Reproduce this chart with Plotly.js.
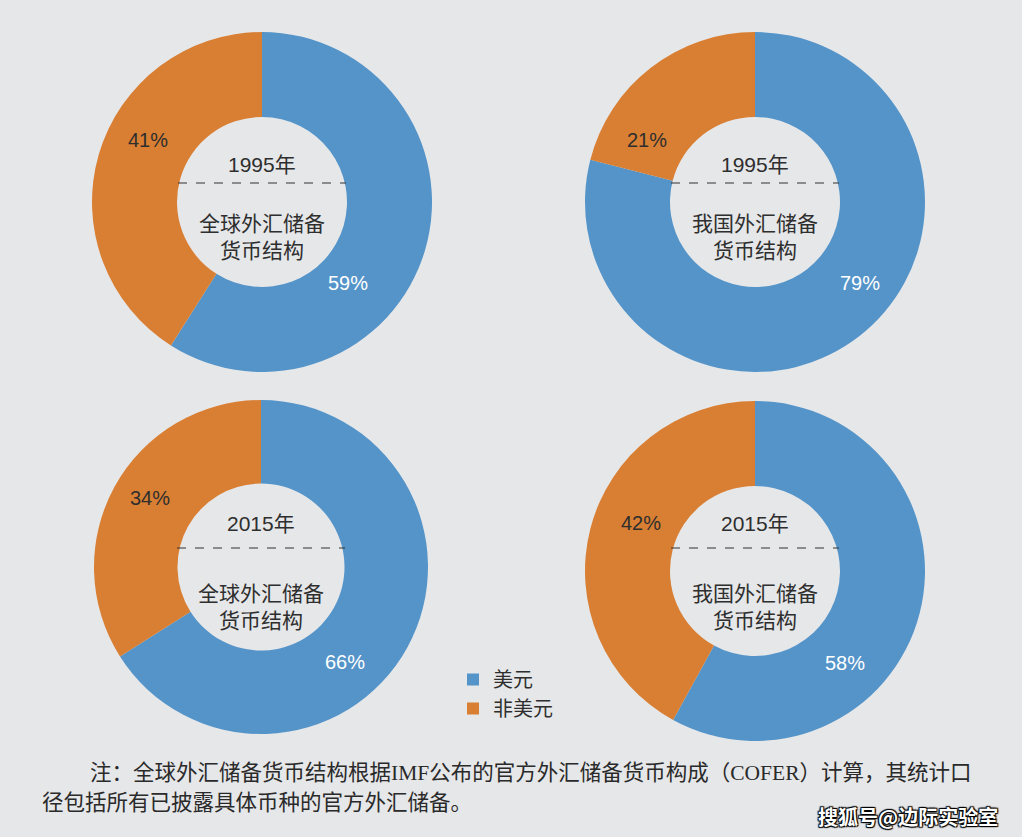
<!DOCTYPE html>
<html>
<head>
<meta charset="utf-8">
<script src="https://cdn.plot.ly/plotly-3.0.1.min.js"></script>
<style>
  html, body { margin: 0; padding: 0; background: #e6e7e9; }
  #chart { width: 1022px; height: 837px; }
</style>
</head>
<body>
<div id="chart"></div>
<script>
// data
var labels = ['美元', '非美元'];
var years = ['1995年', '1995年', '2015年', '2015年'];
var scopes = ['全球外汇储备<br>货币结构', '我国外汇储备<br>货币结构',
              '全球外汇储备<br>货币结构', '我国外汇储备<br>货币结构'];
var usdShare = [59, 79, 66, 58];
var otherShare = [41, 21, 34, 42];

var colors = ['#5494c9', '#d97f33'];
var W = 1022, H = 837;

// pixel centre and outer radius of each ring
var rings = [
  {cx: 262, cy: 202, r: 170},
  {cx: 755, cy: 202, r: 170},
  {cx: 261, cy: 567, r: 167},
  {cx: 755, cy: 571, r: 170}
];
// vertical pixel spots of the hole texts: year, dashed rule, scope block
var holeText = [
  {year: 165, dash: 183, scope: 237},
  {year: 165, dash: 183, scope: 237},
  {year: 523, dash: 548, scope: 607},
  {year: 523, dash: 548, scope: 607}
];
// where the percent labels sit (pixels): [usd, other]
var labelPos = [
  [[348, 283], [148, 140]],
  [[860, 283], [647, 140]],
  [[345, 662], [150, 498]],
  [[845, 663], [641, 523]]
];

var font = '"Liberation Sans", "Noto Sans CJK SC", sans-serif';
var serif = '"Liberation Serif", "Noto Sans CJK SC", serif';
var ink = '#2e2e2e';

function px(x) { return x / W; }
function py(y) { return 1 - y / H; }

// text placed at a pixel spot, anchored on its middle
function note(x, y, text, f, xa) {
  return {
    x: px(x), y: py(y), xref: 'paper', yref: 'paper', showarrow: false,
    xanchor: xa || 'center', yanchor: 'middle',
    text: text, font: f
  };
}

var traces = [];
var annotations = [];
var shapes = [];

for (var i = 0; i < rings.length; i++) {
  var g = rings[i];
  var h = holeText[i];
  traces.push({
    type: 'pie',
    labels: labels,
    values: [usdShare[i], otherShare[i]],
    hole: 0.5,
    sort: false,
    direction: 'clockwise',
    rotation: 0,
    textinfo: 'none',
    marker: {colors: colors, line: {width: 0}},
    showlegend: i === 0,
    domain: {x: [px(g.cx - g.r), px(g.cx + g.r)], y: [py(g.cy + g.r), py(g.cy - g.r)]}
  });

  var vals = [usdShare[i], otherShare[i]];
  for (var k = 0; k < 2; k++) {
    annotations.push(note(labelPos[i][k][0], labelPos[i][k][1], vals[k] + '%',
      {family: font, size: 20, color: k === 0 ? '#ffffff' : ink}));
  }

  annotations.push(note(g.cx, h.year, years[i], {family: font, size: 21, color: ink}));
  annotations.push(note(g.cx, h.scope, scopes[i], {family: font, size: 21, color: ink}));
  shapes.push({
    type: 'line', xref: 'paper', yref: 'paper',
    x0: px(g.cx - 84), x1: px(g.cx + 84), y0: py(h.dash), y1: py(h.dash),
    line: {color: '#333333', width: 1.2, dash: 'dash'}
  });
}

// footnote
annotations.push(note(88, 773,
  '注：全球外汇储备货币结构根据IMF公布的官方外汇储备货币构成（COFER）计算，其统计口',
  {family: serif, size: 21.5, color: '#2a2a2a'}, 'left'));
annotations.push(note(40, 803,
  '径包括所有已披露具体币种的官方外汇储备。',
  {family: serif, size: 21.5, color: '#2a2a2a'}, 'left'));
// watermark
annotations.push(note(1000, 816, '<b>搜狐号@边际实验室</b>',
  {family: '"Noto Sans CJK SC", sans-serif', size: 20, color: '#ffffff',
   shadow: '1px 1px 1px #000, -1px -1px 1px #000, 1px -1px 1px #000, -1px 1px 1px #000'}, 'right'));

var layout = {
  width: W, height: H,
  margin: {l: 0, r: 0, t: 0, b: 0},
  paper_bgcolor: '#e6e7e9',
  plot_bgcolor: '#e6e7e9',
  showlegend: true,
  legend: {
    x: px(453), y: py(660), xanchor: 'left', yanchor: 'top',
    bgcolor: 'rgba(0,0,0,0)',
    font: {family: font, size: 20, color: ink},
    traceorder: 'normal'
  },
  annotations: annotations,
  shapes: shapes
};

Plotly.newPlot('chart', traces, layout, {displayModeBar: false, staticPlot: true});
</script>
</body>
</html>
